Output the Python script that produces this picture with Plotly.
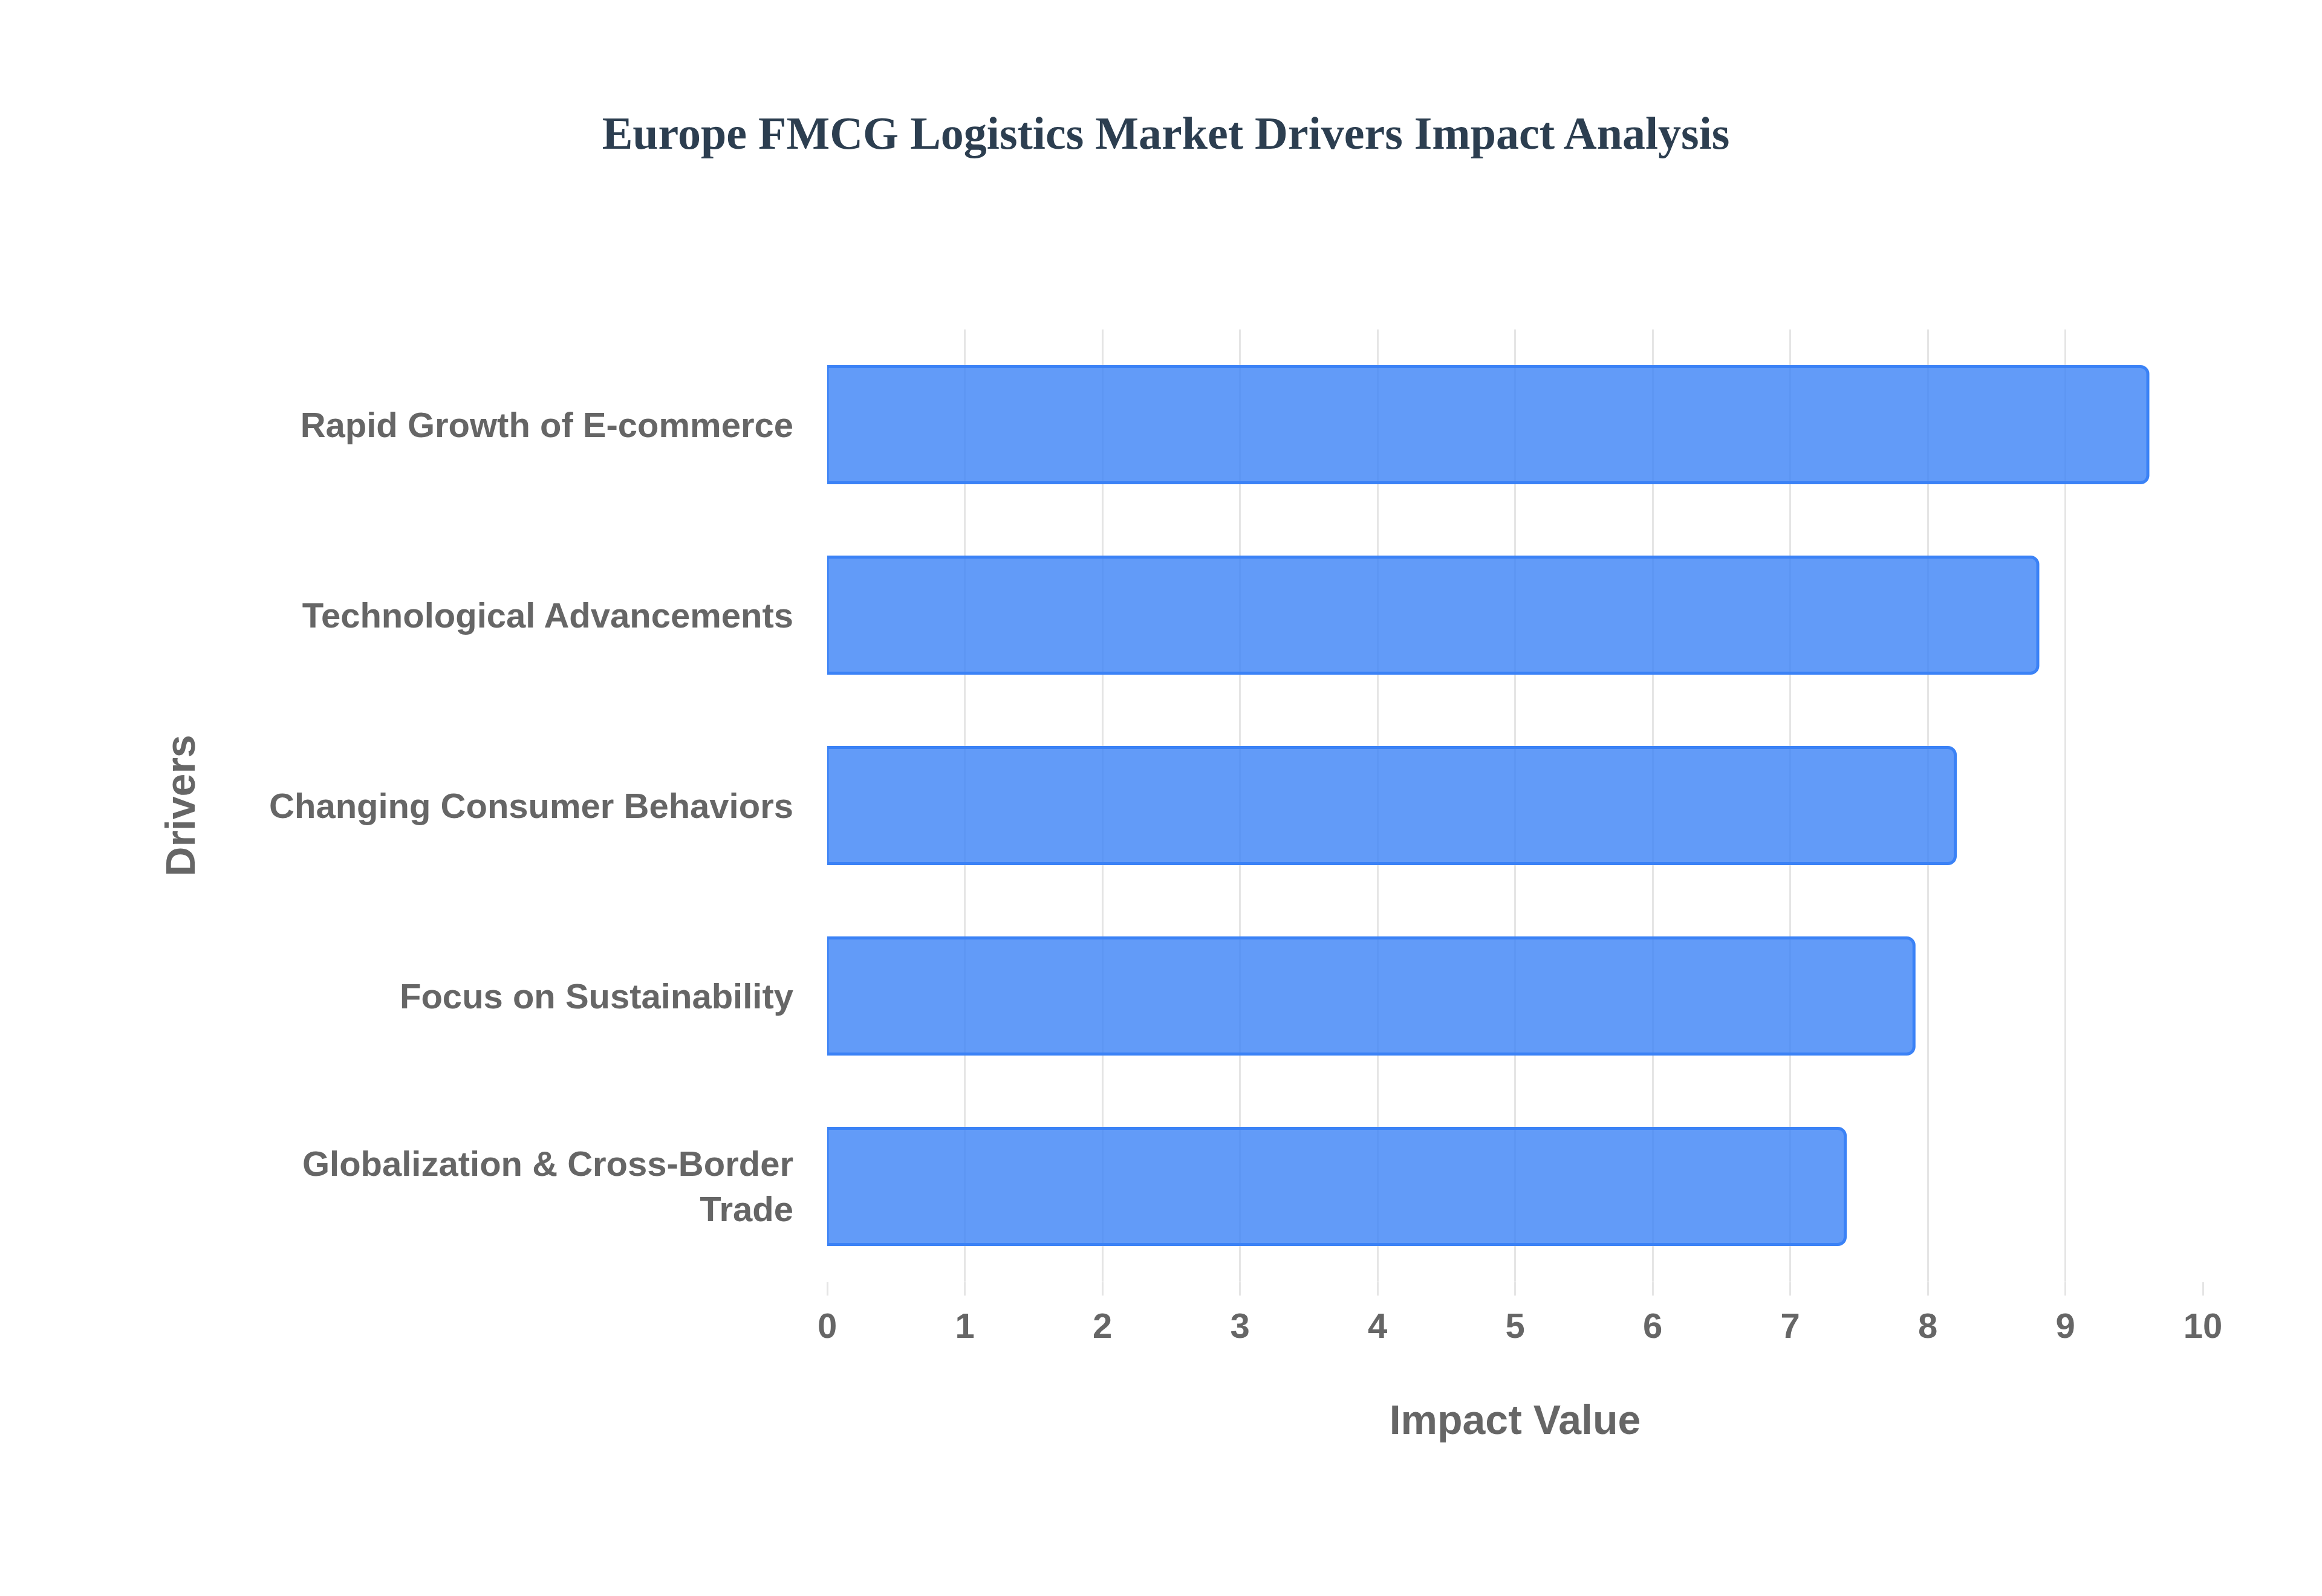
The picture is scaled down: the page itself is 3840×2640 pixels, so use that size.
import plotly.graph_objects as go

drivers = ["Rapid Growth of E-commerce", "Technological Advancements",
           "Changing Consumer Behaviors", "Focus on Sustainability",
           "Globalization & Cross-Border<br>Trade"]
impact = [9.6, 8.8, 8.2, 7.9, 7.4]
x_ticks = list(range(0, 11))

font_fam = "Liberation Sans Narrow, Liberation Sans"

fig = go.Figure(go.Bar(
    x=impact, y=drivers, orientation="h", width=0.61,
    marker=dict(color="rgba(59,130,246,0.8)", cornerradius=12,
                line=dict(color="#3b82f6", width=5)),
))
fig.update_layout(
    width=3840, height=2640,
    paper_bgcolor="white", plot_bgcolor="white",
    title=dict(text="<b>Europe FMCG Logistics Market Drivers Impact Analysis</b>",
               x=0.5, y=0.93, xanchor="center", yanchor="top",
               font=dict(family="Liberation Serif", size=76, color="#2c3e50")),
    margin=dict(l=1360, r=205, t=537, b=528),
    showlegend=False,
    xaxis=dict(range=[0, 10], tickvals=x_ticks, showgrid=True,
               gridcolor="#e5e5e5", gridwidth=3, zeroline=False,
               ticks="outside", ticklen=22, tickwidth=3, tickcolor="#e5e5e5",
               tickfont=dict(family=font_fam, size=58, color="#666666", weight="bold"),
               title=dict(text="<b>Impact Value</b>", standoff=100,
                          font=dict(family=font_fam, size=68, color="#666666"))),
    yaxis=dict(categoryorder="array", categoryarray=drivers[::-1],
               showgrid=False, ticks="", ticklabelstandoff=55,
               tickfont=dict(family=font_fam, size=58, color="#666666", weight="bold"),
               title=dict(text="<b>Drivers</b>", standoff=100,
                          font=dict(family=font_fam, size=68, color="#666666"))),
)
fig.write_html("out.html")
